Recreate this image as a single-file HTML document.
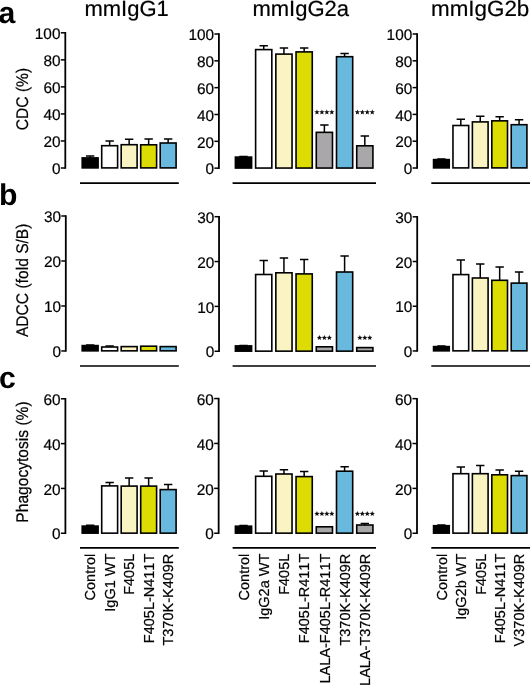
<!DOCTYPE html>
<html><head><meta charset="utf-8"><title>figure</title><style>
html,body{margin:0;padding:0;background:#fff;overflow:hidden;}
svg{display:block;will-change:transform;}
.t text{font-family:"Liberation Sans",sans-serif;font-kerning:none;text-rendering:geometricPrecision;}
</style></head><body>
<svg width="530" height="685" viewBox="0 0 530 685">
<g fill="none" stroke="#000">
<path d="M65.3 32.05V168.75" stroke-width="1.8"/>
<path d="M60.80 168.00H65.30" stroke-width="1.5"/>
<path d="M60.80 140.96H65.30" stroke-width="1.5"/>
<path d="M60.80 113.92H65.30" stroke-width="1.5"/>
<path d="M60.80 86.88H65.30" stroke-width="1.5"/>
<path d="M60.80 59.84H65.30" stroke-width="1.5"/>
<path d="M60.80 32.80H65.30" stroke-width="1.5"/>
<path d="M80 183.2H178.8" stroke-width="1.7"/>
<path d="M90.15 156.10V157.90M85.95 156.10H94.35" stroke-width="1.5"/>
<rect x="82.20" y="157.90" width="15.90" height="10.00" fill="#000000" stroke-width="1.6"/>
<path d="M109.65 141.00V145.70M105.45 141.00H113.85" stroke-width="1.5"/>
<rect x="101.70" y="145.70" width="15.90" height="22.20" fill="#ffffff" stroke-width="1.6"/>
<path d="M129.15 139.15V144.70M124.95 139.15H133.35" stroke-width="1.5"/>
<rect x="121.20" y="144.70" width="15.90" height="23.20" fill="#f9f4c2" stroke-width="1.6"/>
<path d="M148.65 139.10V144.80M144.45 139.10H152.85" stroke-width="1.5"/>
<rect x="140.70" y="144.80" width="15.90" height="23.10" fill="#dcdc02" stroke-width="1.6"/>
<path d="M168.15 139.00V143.00M163.95 139.00H172.35" stroke-width="1.5"/>
<rect x="160.20" y="143.00" width="15.90" height="24.90" fill="#68b9dd" stroke-width="1.6"/>
<path d="M218.9 33.25V168.90" stroke-width="1.8"/>
<path d="M214.40 168.15H218.90" stroke-width="1.5"/>
<path d="M214.40 141.32H218.90" stroke-width="1.5"/>
<path d="M214.40 114.49H218.90" stroke-width="1.5"/>
<path d="M214.40 87.66H218.90" stroke-width="1.5"/>
<path d="M214.40 60.83H218.90" stroke-width="1.5"/>
<path d="M214.40 34.00H218.90" stroke-width="1.5"/>
<path d="M232.6 183.2H376.0" stroke-width="1.7"/>
<path d="M243.50 156.60V157.10M239.30 156.60H247.70" stroke-width="1.5"/>
<rect x="235.40" y="157.10" width="16.20" height="10.95" fill="#000000" stroke-width="1.6"/>
<path d="M263.72 45.70V49.60M259.52 45.70H267.92" stroke-width="1.5"/>
<rect x="255.62" y="49.60" width="16.20" height="118.45" fill="#ffffff" stroke-width="1.6"/>
<path d="M283.94 48.00V54.10M279.74 48.00H288.14" stroke-width="1.5"/>
<rect x="275.84" y="54.10" width="16.20" height="113.95" fill="#f9f4c2" stroke-width="1.6"/>
<path d="M304.16 48.00V51.90M299.96 48.00H308.36" stroke-width="1.5"/>
<rect x="296.06" y="51.90" width="16.20" height="116.15" fill="#dcdc02" stroke-width="1.6"/>
<path d="M324.38 124.95V132.35M320.18 124.95H328.58" stroke-width="1.5"/>
<rect x="316.28" y="132.35" width="16.20" height="35.70" fill="#a9a7aa" stroke-width="1.6"/>
<path d="M344.60 53.50V56.70M340.40 53.50H348.80" stroke-width="1.5"/>
<rect x="336.50" y="56.70" width="16.20" height="111.35" fill="#68b9dd" stroke-width="1.6"/>
<path d="M364.82 136.10V145.80M360.62 136.10H369.02" stroke-width="1.5"/>
<rect x="356.72" y="145.80" width="16.20" height="22.25" fill="#a9a7aa" stroke-width="1.6"/>
<path d="M417.1 33.25V168.75" stroke-width="1.8"/>
<path d="M412.60 168.00H417.10" stroke-width="1.5"/>
<path d="M412.60 141.20H417.10" stroke-width="1.5"/>
<path d="M412.60 114.40H417.10" stroke-width="1.5"/>
<path d="M412.60 87.60H417.10" stroke-width="1.5"/>
<path d="M412.60 60.80H417.10" stroke-width="1.5"/>
<path d="M412.60 34.00H417.10" stroke-width="1.5"/>
<path d="M431.3 183.2H530" stroke-width="1.7"/>
<path d="M441.40 158.95V159.60M437.20 158.95H445.60" stroke-width="1.5"/>
<rect x="433.55" y="159.60" width="15.70" height="8.30" fill="#000000" stroke-width="1.6"/>
<path d="M460.82 119.25V125.50M456.62 119.25H465.02" stroke-width="1.5"/>
<rect x="452.97" y="125.50" width="15.70" height="42.40" fill="#ffffff" stroke-width="1.6"/>
<path d="M480.24 116.25V121.90M476.04 116.25H484.44" stroke-width="1.5"/>
<rect x="472.39" y="121.90" width="15.70" height="46.00" fill="#f9f4c2" stroke-width="1.6"/>
<path d="M499.66 116.80V120.85M495.46 116.80H503.86" stroke-width="1.5"/>
<rect x="491.81" y="120.85" width="15.70" height="47.05" fill="#dcdc02" stroke-width="1.6"/>
<path d="M519.08 119.80V124.70M514.88 119.80H523.28" stroke-width="1.5"/>
<rect x="511.23" y="124.70" width="15.70" height="43.20" fill="#68b9dd" stroke-width="1.6"/>
<path d="M65.8 215.25V351.70" stroke-width="1.8"/>
<path d="M61.30 350.95H65.80" stroke-width="1.5"/>
<path d="M61.30 305.97H65.80" stroke-width="1.5"/>
<path d="M61.30 260.98H65.80" stroke-width="1.5"/>
<path d="M61.30 216.00H65.80" stroke-width="1.5"/>
<path d="M80 366.0H178.8" stroke-width="1.7"/>
<path d="M90.15 345.10V345.60M85.95 345.10H94.35" stroke-width="1.5"/>
<rect x="82.20" y="345.60" width="15.90" height="5.25" fill="#000000" stroke-width="1.6"/>
<path d="M109.65 346.10V347.00M105.45 346.10H113.85" stroke-width="1.5"/>
<rect x="101.70" y="347.00" width="15.90" height="3.85" fill="#ffffff" stroke-width="1.6"/>
<rect x="121.20" y="346.60" width="15.90" height="4.25" fill="#f9f4c2" stroke-width="1.6"/>
<rect x="140.70" y="346.20" width="15.90" height="4.65" fill="#dcdc02" stroke-width="1.6"/>
<rect x="160.20" y="346.60" width="15.90" height="4.25" fill="#68b9dd" stroke-width="1.6"/>
<path d="M219.05 215.95V352.00" stroke-width="1.8"/>
<path d="M214.55 351.25H219.05" stroke-width="1.5"/>
<path d="M214.55 306.40H219.05" stroke-width="1.5"/>
<path d="M214.55 261.55H219.05" stroke-width="1.5"/>
<path d="M214.55 216.70H219.05" stroke-width="1.5"/>
<path d="M232.6 366.0H376.0" stroke-width="1.7"/>
<path d="M243.50 345.60V345.90M239.30 345.60H247.70" stroke-width="1.5"/>
<rect x="235.40" y="345.90" width="16.20" height="5.25" fill="#000000" stroke-width="1.6"/>
<path d="M263.72 260.50V274.50M259.52 260.50H267.92" stroke-width="1.5"/>
<rect x="255.62" y="274.50" width="16.20" height="76.65" fill="#ffffff" stroke-width="1.6"/>
<path d="M283.94 257.90V272.80M279.74 257.90H288.14" stroke-width="1.5"/>
<rect x="275.84" y="272.80" width="16.20" height="78.35" fill="#f9f4c2" stroke-width="1.6"/>
<path d="M304.16 259.50V273.90M299.96 259.50H308.36" stroke-width="1.5"/>
<rect x="296.06" y="273.90" width="16.20" height="77.25" fill="#dcdc02" stroke-width="1.6"/>
<rect x="316.28" y="346.80" width="16.20" height="4.35" fill="#a9a7aa" stroke-width="1.6"/>
<path d="M344.60 256.10V272.00M340.40 256.10H348.80" stroke-width="1.5"/>
<rect x="336.50" y="272.00" width="16.20" height="79.15" fill="#68b9dd" stroke-width="1.6"/>
<rect x="356.72" y="347.60" width="16.20" height="3.55" fill="#a9a7aa" stroke-width="1.6"/>
<path d="M417.2 216.05V351.70" stroke-width="1.8"/>
<path d="M412.70 350.95H417.20" stroke-width="1.5"/>
<path d="M412.70 306.23H417.20" stroke-width="1.5"/>
<path d="M412.70 261.52H417.20" stroke-width="1.5"/>
<path d="M412.70 216.80H417.20" stroke-width="1.5"/>
<path d="M431.3 366.0H530" stroke-width="1.7"/>
<path d="M441.40 346.00V346.60M437.20 346.00H445.60" stroke-width="1.5"/>
<rect x="433.55" y="346.60" width="15.70" height="4.25" fill="#000000" stroke-width="1.6"/>
<path d="M460.82 260.00V274.60M456.62 260.00H465.02" stroke-width="1.5"/>
<rect x="452.97" y="274.60" width="15.70" height="76.25" fill="#ffffff" stroke-width="1.6"/>
<path d="M480.24 264.00V278.00M476.04 264.00H484.44" stroke-width="1.5"/>
<rect x="472.39" y="278.00" width="15.70" height="72.85" fill="#f9f4c2" stroke-width="1.6"/>
<path d="M499.66 267.10V280.30M495.46 267.10H503.86" stroke-width="1.5"/>
<rect x="491.81" y="280.30" width="15.70" height="70.55" fill="#dcdc02" stroke-width="1.6"/>
<path d="M519.08 271.90V283.10M514.88 271.90H523.28" stroke-width="1.5"/>
<rect x="511.23" y="283.10" width="15.70" height="67.75" fill="#68b9dd" stroke-width="1.6"/>
<path d="M65.4 398.05V534.00" stroke-width="1.8"/>
<path d="M60.90 533.25H65.40" stroke-width="1.5"/>
<path d="M60.90 488.43H65.40" stroke-width="1.5"/>
<path d="M60.90 443.62H65.40" stroke-width="1.5"/>
<path d="M60.90 398.80H65.40" stroke-width="1.5"/>
<path d="M80 547.8H178.8" stroke-width="1.7"/>
<path d="M90.15 525.20V526.10M85.95 525.20H94.35" stroke-width="1.5"/>
<rect x="82.20" y="526.10" width="15.90" height="7.05" fill="#000000" stroke-width="1.6"/>
<path d="M109.65 482.50V485.90M105.45 482.50H113.85" stroke-width="1.5"/>
<rect x="101.70" y="485.90" width="15.90" height="47.25" fill="#ffffff" stroke-width="1.6"/>
<path d="M129.15 477.90V486.10M124.95 477.90H133.35" stroke-width="1.5"/>
<rect x="121.20" y="486.10" width="15.90" height="47.05" fill="#f9f4c2" stroke-width="1.6"/>
<path d="M148.65 477.90V486.10M144.45 477.90H152.85" stroke-width="1.5"/>
<rect x="140.70" y="486.10" width="15.90" height="47.05" fill="#dcdc02" stroke-width="1.6"/>
<path d="M168.15 484.50V489.60M163.95 484.50H172.35" stroke-width="1.5"/>
<rect x="160.20" y="489.60" width="15.90" height="43.55" fill="#68b9dd" stroke-width="1.6"/>
<path d="M218.65 397.80V534.00" stroke-width="1.8"/>
<path d="M214.15 533.25H218.65" stroke-width="1.5"/>
<path d="M214.15 488.35H218.65" stroke-width="1.5"/>
<path d="M214.15 443.45H218.65" stroke-width="1.5"/>
<path d="M214.15 398.55H218.65" stroke-width="1.5"/>
<path d="M232.6 547.8H376.0" stroke-width="1.7"/>
<path d="M243.50 525.40V526.20M239.30 525.40H247.70" stroke-width="1.5"/>
<rect x="235.40" y="526.20" width="16.20" height="6.95" fill="#000000" stroke-width="1.6"/>
<path d="M263.72 470.90V476.30M259.52 470.90H267.92" stroke-width="1.5"/>
<rect x="255.62" y="476.30" width="16.20" height="56.85" fill="#ffffff" stroke-width="1.6"/>
<path d="M283.94 469.80V474.00M279.74 469.80H288.14" stroke-width="1.5"/>
<rect x="275.84" y="474.00" width="16.20" height="59.15" fill="#f9f4c2" stroke-width="1.6"/>
<path d="M304.16 471.60V476.60M299.96 471.60H308.36" stroke-width="1.5"/>
<rect x="296.06" y="476.60" width="16.20" height="56.55" fill="#dcdc02" stroke-width="1.6"/>
<rect x="316.28" y="526.80" width="16.20" height="6.35" fill="#a9a7aa" stroke-width="1.6"/>
<path d="M344.60 466.80V471.20M340.40 466.80H348.80" stroke-width="1.5"/>
<rect x="336.50" y="471.20" width="16.20" height="61.95" fill="#68b9dd" stroke-width="1.6"/>
<path d="M364.82 523.40V525.00M360.62 523.40H369.02" stroke-width="1.5"/>
<rect x="356.72" y="525.00" width="16.20" height="8.15" fill="#a9a7aa" stroke-width="1.6"/>
<path d="M417.0 397.90V534.00" stroke-width="1.8"/>
<path d="M412.50 533.25H417.00" stroke-width="1.5"/>
<path d="M412.50 488.38H417.00" stroke-width="1.5"/>
<path d="M412.50 443.52H417.00" stroke-width="1.5"/>
<path d="M412.50 398.65H417.00" stroke-width="1.5"/>
<path d="M431.3 547.8H530" stroke-width="1.7"/>
<path d="M441.40 525.00V525.70M437.20 525.00H445.60" stroke-width="1.5"/>
<rect x="433.55" y="525.70" width="15.70" height="7.45" fill="#000000" stroke-width="1.6"/>
<path d="M460.82 466.90V473.70M456.62 466.90H465.02" stroke-width="1.5"/>
<rect x="452.97" y="473.70" width="15.70" height="59.45" fill="#ffffff" stroke-width="1.6"/>
<path d="M480.24 465.40V473.70M476.04 465.40H484.44" stroke-width="1.5"/>
<rect x="472.39" y="473.70" width="15.70" height="59.45" fill="#f9f4c2" stroke-width="1.6"/>
<path d="M499.66 470.00V474.80M495.46 470.00H503.86" stroke-width="1.5"/>
<rect x="491.81" y="474.80" width="15.70" height="58.35" fill="#dcdc02" stroke-width="1.6"/>
<path d="M519.08 471.25V475.60M514.88 471.25H523.28" stroke-width="1.5"/>
<rect x="511.23" y="475.60" width="15.70" height="57.55" fill="#68b9dd" stroke-width="1.6"/>
</g>
<path fill="#111" d="M316.95,109.45L317.68,111.20L319.57,111.35L318.13,112.58L318.57,114.42L316.95,113.44L315.34,114.42L315.78,112.58L314.34,111.35L316.23,111.20ZM321.90,109.45L322.63,111.20L324.52,111.35L323.08,112.58L323.52,114.42L321.90,113.44L320.29,114.42L320.73,112.58L319.29,111.35L321.18,111.20ZM326.86,109.45L327.58,111.20L329.47,111.35L328.03,112.58L328.47,114.42L326.86,113.44L325.24,114.42L325.68,112.58L324.24,111.35L326.13,111.20ZM331.81,109.45L332.53,111.20L334.42,111.35L332.98,112.58L333.42,114.42L331.81,113.44L330.19,114.42L330.63,112.58L329.19,111.35L331.08,111.20ZM357.39,109.45L358.12,111.20L360.01,111.35L358.57,112.58L359.01,114.42L357.39,113.44L355.78,114.42L356.22,112.58L354.78,111.35L356.67,111.20ZM362.34,109.45L363.07,111.20L364.96,111.35L363.52,112.58L363.96,114.42L362.34,113.44L360.73,114.42L361.17,112.58L359.73,111.35L361.62,111.20ZM367.29,109.45L368.02,111.20L369.91,111.35L368.47,112.58L368.91,114.42L367.29,113.44L365.68,114.42L366.12,112.58L364.68,111.35L366.57,111.20ZM372.24,109.45L372.97,111.20L374.86,111.35L373.42,112.58L373.86,114.42L372.24,113.44L370.63,114.42L371.07,112.58L369.63,111.35L371.52,111.20ZM319.43,335.05L320.16,336.80L322.05,336.95L320.61,338.18L321.05,340.02L319.43,339.04L317.81,340.02L318.25,338.18L316.81,336.95L318.70,336.80ZM324.38,335.05L325.11,336.80L327.00,336.95L325.56,338.18L326.00,340.02L324.38,339.04L322.76,340.02L323.20,338.18L321.76,336.95L323.65,336.80ZM329.33,335.05L330.06,336.80L331.95,336.95L330.51,338.18L330.95,340.02L329.33,339.04L327.71,340.02L328.15,338.18L326.71,336.95L328.60,336.80ZM359.87,335.05L360.60,336.80L362.49,336.95L361.05,338.18L361.49,340.02L359.87,339.04L358.25,340.02L358.69,338.18L357.25,336.95L359.14,336.80ZM364.82,335.05L365.55,336.80L367.44,336.95L366.00,338.18L366.44,340.02L364.82,339.04L363.20,340.02L363.64,338.18L362.20,336.95L364.09,336.80ZM369.77,335.05L370.50,336.80L372.39,336.95L370.95,338.18L371.39,340.02L369.77,339.04L368.15,340.02L368.59,338.18L367.15,336.95L369.04,336.80ZM316.95,511.05L317.68,512.80L319.57,512.95L318.13,514.18L318.57,516.02L316.95,515.04L315.34,516.02L315.78,514.18L314.34,512.95L316.23,512.80ZM321.90,511.05L322.63,512.80L324.52,512.95L323.08,514.18L323.52,516.02L321.90,515.04L320.29,516.02L320.73,514.18L319.29,512.95L321.18,512.80ZM326.86,511.05L327.58,512.80L329.47,512.95L328.03,514.18L328.47,516.02L326.86,515.04L325.24,516.02L325.68,514.18L324.24,512.95L326.13,512.80ZM331.81,511.05L332.53,512.80L334.42,512.95L332.98,514.18L333.42,516.02L331.81,515.04L330.19,516.02L330.63,514.18L329.19,512.95L331.08,512.80ZM357.39,511.05L358.12,512.80L360.01,512.95L358.57,514.18L359.01,516.02L357.39,515.04L355.78,516.02L356.22,514.18L354.78,512.95L356.67,512.80ZM362.34,511.05L363.07,512.80L364.96,512.95L363.52,514.18L363.96,516.02L362.34,515.04L360.73,516.02L361.17,514.18L359.73,512.95L361.62,512.80ZM367.29,511.05L368.02,512.80L369.91,512.95L368.47,514.18L368.91,516.02L367.29,515.04L365.68,516.02L366.12,514.18L364.68,512.95L366.57,512.80ZM372.24,511.05L372.97,512.80L374.86,512.95L373.42,514.18L373.86,516.02L372.24,515.04L370.63,516.02L371.07,514.18L369.63,512.95L371.52,512.80Z"/>
<g class="t" fill="#000" stroke="#000" stroke-width="0.2">
<text x="60.50" y="174.20" text-anchor="end" font-size="15.4">0</text>
<text x="60.50" y="147.16" text-anchor="end" font-size="15.4">20</text>
<text x="60.50" y="120.12" text-anchor="end" font-size="15.4">40</text>
<text x="60.50" y="93.08" text-anchor="end" font-size="15.4">60</text>
<text x="60.50" y="66.04" text-anchor="end" font-size="15.4">80</text>
<text x="60.50" y="39.00" text-anchor="end" font-size="15.4">100</text>
<text x="214.10" y="174.35" text-anchor="end" font-size="15.4">0</text>
<text x="214.10" y="147.52" text-anchor="end" font-size="15.4">20</text>
<text x="214.10" y="120.69" text-anchor="end" font-size="15.4">40</text>
<text x="214.10" y="93.86" text-anchor="end" font-size="15.4">60</text>
<text x="214.10" y="67.03" text-anchor="end" font-size="15.4">80</text>
<text x="214.10" y="40.20" text-anchor="end" font-size="15.4">100</text>
<text x="412.30" y="174.20" text-anchor="end" font-size="15.4">0</text>
<text x="412.30" y="147.40" text-anchor="end" font-size="15.4">20</text>
<text x="412.30" y="120.60" text-anchor="end" font-size="15.4">40</text>
<text x="412.30" y="93.80" text-anchor="end" font-size="15.4">60</text>
<text x="412.30" y="67.00" text-anchor="end" font-size="15.4">80</text>
<text x="412.30" y="40.20" text-anchor="end" font-size="15.4">100</text>
<text x="61.00" y="357.15" text-anchor="end" font-size="15.4">0</text>
<text x="61.00" y="312.17" text-anchor="end" font-size="15.4">10</text>
<text x="61.00" y="267.18" text-anchor="end" font-size="15.4">20</text>
<text x="61.00" y="222.20" text-anchor="end" font-size="15.4">30</text>
<text x="214.25" y="357.45" text-anchor="end" font-size="15.4">0</text>
<text x="214.25" y="312.60" text-anchor="end" font-size="15.4">10</text>
<text x="214.25" y="267.75" text-anchor="end" font-size="15.4">20</text>
<text x="214.25" y="222.90" text-anchor="end" font-size="15.4">30</text>
<text x="412.40" y="357.15" text-anchor="end" font-size="15.4">0</text>
<text x="412.40" y="312.43" text-anchor="end" font-size="15.4">10</text>
<text x="412.40" y="267.72" text-anchor="end" font-size="15.4">20</text>
<text x="412.40" y="223.00" text-anchor="end" font-size="15.4">30</text>
<text x="60.60" y="539.45" text-anchor="end" font-size="15.4">0</text>
<text x="60.60" y="494.63" text-anchor="end" font-size="15.4">20</text>
<text x="60.60" y="449.82" text-anchor="end" font-size="15.4">40</text>
<text x="60.60" y="405.00" text-anchor="end" font-size="15.4">60</text>
<text x="213.85" y="539.45" text-anchor="end" font-size="15.4">0</text>
<text x="213.85" y="494.55" text-anchor="end" font-size="15.4">20</text>
<text x="213.85" y="449.65" text-anchor="end" font-size="15.4">40</text>
<text x="213.85" y="404.75" text-anchor="end" font-size="15.4">60</text>
<text x="412.20" y="539.45" text-anchor="end" font-size="15.4">0</text>
<text x="412.20" y="494.58" text-anchor="end" font-size="15.4">20</text>
<text x="412.20" y="449.72" text-anchor="end" font-size="15.4">40</text>
<text x="412.20" y="404.85" text-anchor="end" font-size="15.4">60</text>
<text transform="translate(84.40,16.00) scale(1.0,1)" font-size="22">mmIgG1</text>
<text transform="translate(252.40,16.00) scale(1.0,1)" font-size="22">mmIgG2a</text>
<text transform="translate(431.00,16.20) scale(1.018,1)" font-size="22">mmIgG2b</text>
<text transform="translate(28.00,99.00) rotate(-90) scale(1,1.08)" text-anchor="middle" font-size="15.6">CDC (%)</text>
<text transform="translate(28.30,280.30) rotate(-90) scale(1,1.08)" text-anchor="middle" font-size="15.6">ADCC (fold S/B)</text>
<text transform="translate(28.00,462.00) rotate(-90) scale(1,1.08)" text-anchor="middle" font-size="15.6">Phagocytosis (%)</text>
<text transform="translate(95.45,553.70) rotate(-90)" text-anchor="end" font-size="14.5">Control</text>
<text transform="translate(114.95,553.70) rotate(-90)" text-anchor="end" font-size="14.5">IgG1 WT</text>
<text transform="translate(134.45,553.70) rotate(-90)" text-anchor="end" font-size="14.5">F405L</text>
<text transform="translate(153.95,553.70) rotate(-90)" text-anchor="end" font-size="14.5">F405L-N411T</text>
<text transform="translate(173.45,553.70) rotate(-90)" text-anchor="end" font-size="14.5">T370K-K409R</text>
<text transform="translate(248.80,553.70) rotate(-90)" text-anchor="end" font-size="14.5">Control</text>
<text transform="translate(269.02,553.70) rotate(-90)" text-anchor="end" font-size="14.5">IgG2a WT</text>
<text transform="translate(289.24,553.70) rotate(-90)" text-anchor="end" font-size="14.5">F405L</text>
<text transform="translate(309.46,553.70) rotate(-90)" text-anchor="end" font-size="14.5">F405L-R411T</text>
<text transform="translate(329.68,553.70) rotate(-90)" text-anchor="end" font-size="14.5">LALA-F405L-R411T</text>
<text transform="translate(349.90,553.70) rotate(-90)" text-anchor="end" font-size="14.5">T370K-K409R</text>
<text transform="translate(370.12,553.70) rotate(-90)" text-anchor="end" font-size="14.5">LALA-T370K-K409R</text>
<text transform="translate(446.70,553.70) rotate(-90)" text-anchor="end" font-size="14.5">Control</text>
<text transform="translate(466.12,553.70) rotate(-90)" text-anchor="end" font-size="14.5">IgG2b WT</text>
<text transform="translate(485.54,553.70) rotate(-90)" text-anchor="end" font-size="14.5">F405L</text>
<text transform="translate(504.96,553.70) rotate(-90)" text-anchor="end" font-size="14.5">F405L-N411T</text>
<text transform="translate(524.38,553.70) rotate(-90)" text-anchor="end" font-size="14.5">V370K-K409R</text>
</g>
<g class="t" fill="#000">
<text x="-1.40" y="23.15" font-size="30.2" font-weight="bold">a</text>
<text x="-0.90" y="204.70" font-size="30.2" font-weight="bold">b</text>
<text x="-1.10" y="388.30" font-size="30.2" font-weight="bold">c</text>
</g>
</svg>
</body></html>
